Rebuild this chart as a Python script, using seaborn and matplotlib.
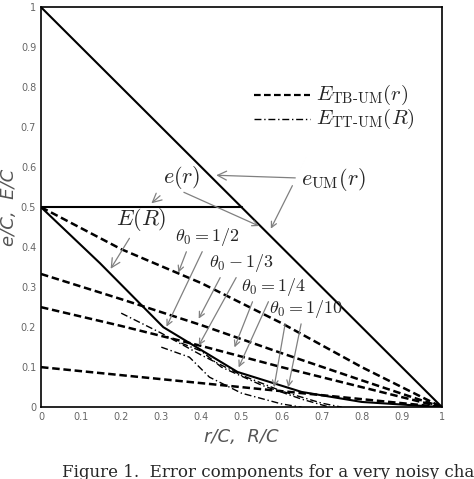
import numpy as np
import pandas as pd
import matplotlib
matplotlib.use("Agg")
import matplotlib.pyplot as plt
import seaborn as sns

# upper bounds
um_x = [0, 1]
um_y = [1, 0]
e_x = [0, 0.5]
e_y = [0.5, 0.5]

# E(R) curve
ER_x = [0, 0.147, 0.305, 0.49, 0.65, 0.8, 1.0]
ER_y = [0.5, 0.36, 0.20, 0.088, 0.038, 0.013, 0.0]

# E_TB-UM(r) for theta0 = 1/2, 1/3, 1/4, 1/10
tb_x = [0, 0.2, 0.4, 0.6, 0.8, 1.0]
tb_y = {
    "1/2": [0.5, 0.395, 0.31, 0.21, 0.10, 0.0],
    "1/3": [0.333, 0.27, 0.205, 0.135, 0.067, 0.0],
    "1/4": [0.25, 0.203, 0.153, 0.10, 0.05, 0.0],
    "1/10": [0.1, 0.08, 0.06, 0.04, 0.02, 0.0],
}

# E_TT-UM(R) curves
tt_x = [[0.2, 0.3, 0.4, 0.5, 0.6, 0.7, 0.75],
        [0.3, 0.37, 0.42, 0.5, 0.6, 0.65],
        [0.35, 0.4, 0.45, 0.55, 0.65, 0.72]]
tt_y = [[0.235, 0.185, 0.13, 0.08, 0.04, 0.01, 0.0],
        [0.15, 0.125, 0.075, 0.035, 0.008, 0.0],
        [0.16, 0.14, 0.1, 0.055, 0.02, 0.0]]

sns.set_style("white")
plt.rcParams["mathtext.fontset"] = "cm"
fig = plt.figure(figsize=(4.74, 4.79), dpi=100)
ax = fig.add_axes([0.0865, 0.150, 0.846, 0.835])

k = dict(color="black", lw=1.5)
sns.lineplot(x=um_x, y=um_y, ax=ax, **k)
sns.lineplot(x=e_x, y=e_y, ax=ax, **k)
sns.lineplot(x=ER_x, y=ER_y, ax=ax, **k)
for key, ys in tb_y.items():
    sns.lineplot(x=tb_x, y=ys, ax=ax, color="black", lw=1.8, linestyle=(0, (3, 1.5)))
for xs, ys in zip(tt_x, tt_y):
    sns.lineplot(x=xs, y=ys, ax=ax, color="black", lw=1.0, linestyle=(0, (5, 2, 1, 2)))

# legend-like entries
ax.plot([0.53, 0.67], [0.78, 0.78], color="black", lw=1.6, linestyle=(0, (3, 1.5)))
ax.text(0.685, 0.78, r"$E_{\mathrm{TB\text{-}UM}}(r)$", fontsize=15, va="center")
ax.plot([0.53, 0.67], [0.72, 0.72], color="black", lw=1.0, linestyle=(0, (5, 2, 1, 2)))
ax.text(0.685, 0.72, r"$E_{\mathrm{TT\text{-}UM}}(R)$", fontsize=15, va="center")

ap = dict(arrowstyle="->", color="gray", lw=0.9)
ax.annotate(r"$e(r)$", xy=(0.27, 0.505), xytext=(0.35, 0.575), fontsize=16, ha="center", va="center", arrowprops=ap)
ax.annotate("", xy=(0.55, 0.45), xytext=(0.35, 0.54), arrowprops=ap)
ax.annotate(r"$e_{\mathrm{UM}}(r)$", xy=(0.43, 0.58), xytext=(0.73, 0.57), fontsize=16, ha="center", va="center", arrowprops=ap)
ax.annotate("", xy=(0.57, 0.44), xytext=(0.63, 0.56), arrowprops=ap)
ax.annotate(r"$E(R)$", xy=(0.17, 0.34), xytext=(0.25, 0.47), fontsize=16, ha="center", va="center", arrowprops=ap)

th = [(r"$\theta_0=1/2$", (0.415, 0.425), [(0.34, 0.33), (0.31, 0.195)]),
      (r"$\theta_0-1/3$", (0.50, 0.36), [(0.39, 0.215), (0.39, 0.148)]),
      (r"$\theta_0=1/4$", (0.58, 0.30), [(0.48, 0.143), (0.49, 0.093)]),
      (r"$\theta_0=1/10$", (0.66, 0.245), [(0.58, 0.043), (0.615, 0.043)])]
for lab, pos, tgts in th:
    ax.text(pos[0], pos[1], lab, fontsize=13, ha="center", va="center")
    for i, t in enumerate(tgts):
        ax.annotate("", xy=t, xytext=(pos[0] - 0.05 + 0.04 * i, pos[1] - 0.03), arrowprops=ap)

ax.set_xlim(0, 1)
ax.set_ylim(0, 1)
ax.set_xticks(np.arange(0, 1.01, 0.1))
ax.set_yticks(np.arange(0, 1.01, 0.1))
ax.set_xticklabels(["0"] + [f"{v:.1f}" for v in np.arange(0.1, 0.95, 0.1)] + ["1"])
ax.set_yticklabels(["0"] + [f"{v:.1f}" for v in np.arange(0.1, 0.95, 0.1)] + ["1"])
ax.tick_params(labelsize=7, colors="#666666", length=0)
ax.set_xlabel("r/C,  R/C", fontsize=13, color="#555555", style="italic")
ax.set_ylabel("e/C,  E/C", fontsize=13, color="#555555", style="italic", labelpad=2)
for s in ax.spines.values():
    s.set_color("black")
    s.set_linewidth(1.2)

fig.text(0.13, -0.005, "Figure 1.  Error components for a very noisy chann", fontsize=12,
         family="DejaVu Serif", va="bottom")
fig.savefig("out.png", dpi=100)
